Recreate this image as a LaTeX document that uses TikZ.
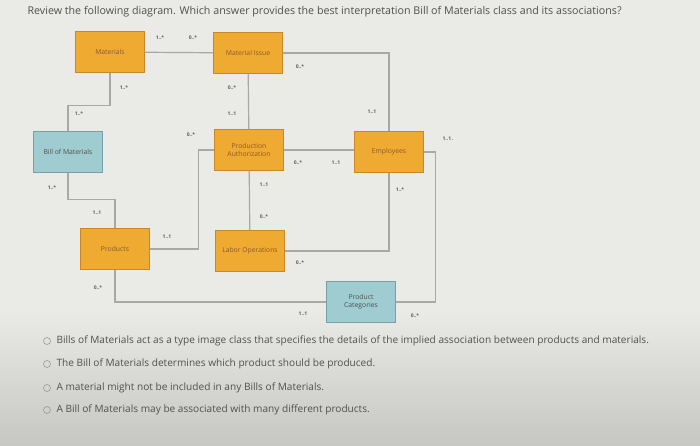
\documentclass[tikz,border=0pt]{standalone}
\usepackage{fontspec}
\setmainfont{Open Sans}

\definecolor{bg}{RGB}{234,234,230}
\definecolor{bgdark}{RGB}{198,198,194}
\definecolor{boxorange}{RGB}{239,170,50}
\definecolor{boxedge}{RGB}{200,135,40}
\definecolor{boxblue}{RGB}{158,204,208}
\definecolor{bluedge}{RGB}{118,160,166}
\definecolor{boxtext}{RGB}{140,90,40}
\definecolor{linegray}{RGB}{168,168,164}
\definecolor{labgray}{RGB}{95,95,92}
\definecolor{textgray}{RGB}{80,80,78}

\begin{document}
\begin{tikzpicture}[x=1pt, y=-1pt,
	cls/.style={draw=boxedge, fill=boxorange, minimum width=69pt, minimum height=41pt, inner sep=1pt, align=center, text=boxtext, font=\fontsize{6.8}{7.6}\selectfont},
	bluecls/.style={cls, draw=bluedge, fill=boxblue, text=textgray},
	mult/.style={text=labgray, font=\fontsize{5}{6}\selectfont\bfseries},
	assoc/.style={draw=linegray, line width=1.2pt},
	radio/.style={circle, draw=gray!80, line width=0.6pt, minimum size=7pt, inner sep=0pt}]
		\useasboundingbox (0,0) rectangle (700,445);
		\fill[bg] (0,0) rectangle (700,445);
		\shade[top color=bg, bottom color=bgdark] (0,310) rectangle (700,445);

		\node[anchor=west, text=textgray, font=\fontsize{10.7}{12}\selectfont] (title) at (24,12) {Review the following diagram. Which answer provides the best interpretation Bill of Materials class and its associations?};

		\node[cls] (mat) at (110,52) {Materials};
		\node[cls] (issue) at (248,53) {Material Issue};
		\node[bluecls] (bom) at (68,152) {Bill of Materials};
		\node[cls] (auth) at (249,150) {Production\\Authorization};
		\node[cls] (emp) at (389,152) {Employees};
		\node[cls] (prod) at (115,249) {Products};
		\node[cls] (labor) at (250,251) {Labor Operations};
		\node[bluecls] (cat) at (361,302) {Product\\Categories};

		\draw[assoc] (mat) -- (issue);
		\draw[assoc] (issue.east) -| (emp.north);
		\draw[assoc] (mat.south) -- ++(0,33) -| (bom.north);
		\draw[assoc] (issue) -- (auth);
		\draw[assoc] (bom.south) -- ++(0,27) -| (prod.north);
		\draw[assoc] (prod.east) -- ++(49,0) |- (auth.west);
		\draw[assoc] (auth) -- (labor);
		\draw[assoc] (auth.east) -- (auth.east -| emp.west);
		\draw[assoc] (labor.east) -| (emp.south);
		\draw[assoc] (emp.east) -- ++(12,0) |- (cat.east);
		\draw[assoc] (prod.south) |- (cat.west);

		\foreach \x/\y/\t [count=\i] in {160/38/1..*, 193/38/0..*, 300/67/0..*, 372/112/1..1, 124/88/1..*, 79/114/1..*, 232/88/0..*, 232/114/1..1, 191/135/0..*, 52/188/1..*, 97/213/1..1, 167/237/1..1, 264/185/1..1, 264/217/0..*, 298/163/0..*, 336/163/1..1, 300/263/0..*, 400/190/1..*, 448/139/1..1\,., 415/316/0..*, 98/288/0..*, 303/314/1..1} {
			\node[mult] (m\i) at (\x,\y) {\t};
		}

		\foreach \y/\t [count=\i] in {341/Bills of Materials act as a type image class that specifies the details of the implied association between products and materials., 364/The Bill of Materials determines which product should be produced., 388/A material might not be included in any Bills of Materials., 410/A Bill of Materials may be associated with many different products.} {
			\node[radio] (radio\i) at (47,\y) {};
			\node[anchor=west, text=textgray, font=\fontsize{10.1}{11}\selectfont] (opt\i) at (53,\y) {\t};
		}
	\end{tikzpicture}
\end{document}
